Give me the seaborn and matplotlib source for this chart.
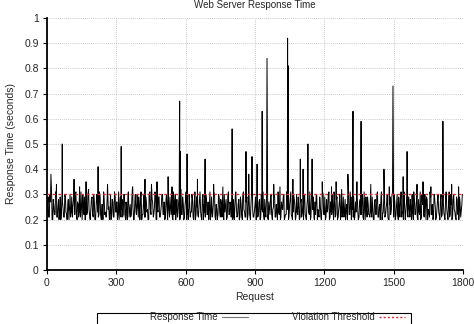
import numpy as np
import pandas as pd
import matplotlib
matplotlib.use("Agg")
import matplotlib.pyplot as plt
import seaborn as sns
from matplotlib.lines import Line2D
from matplotlib.patches import Rectangle

# ---- data ----
base_step = 5
base_values_a = [
    0.22,0.29,0.21,0.27,0.30,0.20,0.25,0.22,0.31,0.21,0.28,0.23,0.20,0.30,0.24,0.21,0.29,0.22,0.26,0.20,
    0.30,0.23,0.21,0.28,0.22,0.31,0.20,0.26,0.29,0.21,0.24,0.30,0.22,0.20,0.27,0.23,0.32,0.21,0.25,0.29,
    0.21,0.27,0.20,0.30,0.23,0.22,0.29,0.20,0.26,0.31,0.22,0.21,0.28,0.24,0.20,0.30,0.22,0.27,0.21,0.29,
    0.23,0.20,0.31,0.25,0.21,0.28,0.22,0.30,0.20,0.24,0.29,0.21,0.26,0.22,0.33,0.20,0.27,0.23,0.30,0.21,
    0.25,0.29,0.20,0.22,0.30,0.21,0.27,0.24,0.20,0.31,0.22,0.28,0.21,0.25,0.30,0.20,0.23,0.29,0.21,0.26,
    0.30,0.22,0.20,0.28,0.23,0.31,0.21,0.25,0.29,0.20,0.22,0.30,0.24,0.21,0.27,0.20,0.32,0.22,0.26,0.21,
    0.29,0.20,0.24,0.30,0.21,0.23,0.28,0.20,0.31,0.22,0.25,0.21,0.29,0.23,0.20,0.30,0.26,0.21,0.28,0.22,
    0.20,0.31,0.23,0.21,0.27,0.30,0.20,0.24,0.22,0.29,0.21,0.26,0.30,0.20,0.23,0.28,0.21,0.31,0.22,0.25,
    0.29,0.21,0.20,0.30,0.24,0.22,0.28,0.21,0.26,0.20,0.31,0.23,0.21,0.29,0.22,0.27,0.20,0.30,0.24,0.21,
    0.26,0.20,0.30,0.22,0.28,0.21,0.24,0.31,0.20,0.23,0.29,0.21,0.27,0.22,0.30,0.20,0.25,0.29,0.21,0.23,
    0.31,0.22,0.20,0.27,0.24,0.30,0.21,0.22,0.29,0.20,0.26,0.31,0.21,0.23,0.28,0.20,0.30,0.22,0.25,0.21,
    0.28,0.23,0.20,0.30,0.21,0.26,0.29,0.22,0.20,0.31,0.24,0.21,0.27,0.30,0.20,0.22,0.29,0.21,0.25,0.30,
    0.22,0.20,0.28,0.24,0.31,0.21,0.23,0.30,0.20,0.26,0.22,0.29,0.21,0.27,0.20,0.32,0.23,0.21,0.28,0.24,
    0.20,0.30,0.22,0.25,0.29,0.21,0.20,0.27,0.31,0.23,0.21,0.28,0.22,0.30,0.20,0.24,0.29,0.21,0.26,0.22,
    0.30,0.21,0.24,0.20,0.28,0.22,0.31,0.21,0.26,0.29,0.20,0.23,0.30,0.22,0.27,0.21,0.20,0.29,0.24,0.31,
    0.21,0.27,0.22,0.30,0.20,0.25,0.28,0.21,0.23,0.31,0.20,0.26,0.22,0.29,0.21,0.24,0.30,0.20,0.27,0.22,
    0.29,0.20,0.23,0.31,0.21,0.26,0.22,0.30,0.20,0.28,0.24,0.21,0.29,0.22,0.20,0.30,0.25,0.21,0.28,0.23,
    0.20,0.30,0.22,0.27,0.21,0.29,0.24,0.20,0.31,0.22,0.26,0.21,0.30,0.23,0.20,0.28,0.22,0.29,0.21,0.26,
]
base_values_b = [
    0.26,0.21,0.30,0.23,0.20,0.28,0.22,0.31,0.21,0.25,0.20,0.29,0.22,0.27,0.21,0.30,0.23,0.20,0.28,0.24,
    0.21,0.29,0.25,0.20,0.30,0.22,0.27,0.21,0.23,0.31,0.20,0.26,0.29,0.21,0.22,0.30,0.24,0.20,0.28,0.22,
    0.30,0.20,0.24,0.28,0.21,0.31,0.22,0.26,0.20,0.29,0.23,0.21,0.30,0.25,0.22,0.20,0.28,0.21,0.31,0.23,
    0.27,0.22,0.20,0.29,0.24,0.21,0.30,0.22,0.27,0.20,0.31,0.23,0.21,0.28,0.25,0.20,0.30,0.22,0.26,0.29,
    0.20,0.31,0.22,0.26,0.21,0.29,0.23,0.20,0.30,0.24,0.21,0.27,0.22,0.31,0.20,0.25,0.29,0.21,0.23,0.30,
    0.22,0.27,0.21,0.30,0.20,0.24,0.29,0.22,0.21,0.31,0.26,0.20,0.28,0.23,0.30,0.21,0.22,0.29,0.20,0.25,
    0.31,0.22,0.20,0.27,0.23,0.30,0.21,0.26,0.20,0.29,0.22,0.24,0.31,0.21,0.28,0.20,0.23,0.30,0.22,0.27,
    0.24,0.20,0.29,0.22,0.31,0.21,0.26,0.20,0.30,0.23,0.28,0.21,0.22,0.30,0.25,0.20,0.29,0.22,0.27,0.21,
    0.20,0.28,0.23,0.31,0.21,0.26,0.20,0.29,0.22,0.30,0.24,0.21,0.27,0.20,0.31,0.22,0.25,0.29,0.21,0.23,
    0.29,0.22,0.21,0.27,0.20,0.30,0.23,0.22,0.28,0.21,0.31,0.20,0.25,0.29,0.22,0.24,0.30,0.21,0.26,0.20,
    0.23,0.30,0.21,0.25,0.29,0.20,0.22,0.31,0.24,0.21,0.28,0.22,0.20,0.30,0.26,0.21,0.23,0.29,0.20,0.27,
    0.21,0.26,0.30,0.22,0.20,0.28,0.23,0.31,0.21,0.25,0.29,0.20,0.22,0.30,0.24,0.21,0.27,0.20,0.31,0.22,
    0.29,0.21,0.23,0.30,0.20,0.27,0.22,0.25,0.31,0.21,0.28,0.20,0.24,0.30,0.22,0.21,0.29,0.23,0.20,0.26,
    0.27,0.22,0.31,0.20,0.24,0.29,0.21,0.23,0.30,0.20,0.26,0.22,0.28,0.21,0.31,0.20,0.25,0.29,0.22,0.21,
    0.23,0.29,0.20,0.27,0.22,0.30,0.21,0.25,0.20,0.31,0.22,0.28,0.21,0.24,0.30,0.20,0.26,0.22,0.29,0.21,
    0.30,0.20,0.25,0.22,0.29,0.21,0.31,0.23,0.20,0.27,0.22,0.30,0.21,0.25,0.28,0.20,0.23,0.31,0.22,0.26,
    0.21,0.28,0.22,0.20,0.30,0.24,0.21,0.27,0.29,0.20,0.23,0.31,0.22,0.26,0.21,0.29,0.20,0.24,0.30,0.22,
    0.27,0.21,0.29,0.23,0.20,0.31,0.22,0.25,0.21,0.30,0.20,0.28,0.24,0.21,0.29,0.22,0.20,0.27,0.23,0.30,
]
spike_requests = [17, 41, 66, 117, 141, 169, 221, 262, 321, 371, 424, 452, 476, 524, 541,
                  574, 576, 606, 651, 684, 721, 761, 801, 861, 873, 887, 909, 931, 952, 981,
                  1008, 1041, 1044, 1064, 1096, 1108, 1129, 1147, 1191, 1231, 1251, 1302, 1324,
                  1341, 1359, 1401, 1458, 1481, 1497, 1541, 1558, 1601, 1627, 1661, 1713, 1751, 1781]
spike_values = [0.38, 0.34, 0.50, 0.36, 0.33, 0.35, 0.41, 0.34, 0.49, 0.33, 0.36, 0.34, 0.35, 0.37, 0.33,
                0.67, 0.47, 0.46, 0.36, 0.44, 0.34, 0.33, 0.56, 0.47, 0.38, 0.45, 0.42, 0.63, 0.84, 0.34,
                0.33, 0.92, 0.81, 0.36, 0.44, 0.40, 0.50, 0.44, 0.35, 0.33, 0.35, 0.38, 0.63,
                0.35, 0.59, 0.34, 0.40, 0.33, 0.73, 0.37, 0.47, 0.34, 0.35, 0.33, 0.59, 0.34, 0.33]
threshold = 0.30
x_ticks = [0, 300, 600, 900, 1200, 1500, 1800]
y_ticks = [0, 0.1, 0.2, 0.3, 0.4, 0.5, 0.6, 0.7, 0.8, 0.9, 1]
y_tick_labels = ["0", "0.1", "0.2", "0.3", "0.4", "0.5", "0.6", "0.7", "0.8", "0.9", "1"]

df = pd.concat([
    pd.DataFrame({"Request": np.arange(len(base_values_a)) * base_step,
                  "Response": base_values_a}),
    pd.DataFrame({"Request": np.arange(len(base_values_b)) * base_step + 2,
                  "Response": base_values_b}),
    pd.DataFrame({"Request": spike_requests, "Response": spike_values}),
], ignore_index=True)
# a spike replaces a regular sample that falls on the same request
df = df.drop_duplicates("Request", keep="last").sort_values("Request", kind="stable")
df = df.reset_index(drop=True)

# ---- style ----
sns.set_style("white")
plt.rcParams["font.family"] = ["Liberation Sans", "DejaVu Sans"]

fig = plt.figure(figsize=(4.74, 3.24), dpi=100)
ax = fig.add_axes([47/474, 1-270/324, 416/474, 252/324])

sns.lineplot(data=df, x="Request", y="Response", ax=ax, color="black",
             linewidth=0.7, estimator=None, sort=False, legend=False)
ax.axhline(threshold, color="#d0303c", linestyle=(0, (2, 2)), linewidth=1.0, zorder=3)

ax.set_xlim(0, 1800)
ax.set_ylim(0, 1)
ax.set_xticks(x_ticks)
ax.set_xticklabels([str(t) for t in x_ticks])
ax.set_yticks(y_ticks)
ax.set_yticklabels(y_tick_labels)
ax.grid(True, color="#b8b8b8", linestyle=(0, (1, 1.5)), linewidth=0.6)
ax.set_axisbelow(True)
for s in ["top", "right"]:
    ax.spines[s].set_visible(False)
for s in ["left", "bottom"]:
    ax.spines[s].set_color("black")
    ax.spines[s].set_linewidth(1.3)
ax.tick_params(direction="out", length=3, width=0.8, color="black",
               labelsize=7.5, pad=3, left=True, bottom=True)
ax.set_xlabel("Request", fontsize=7.5, labelpad=3)
ax.set_ylabel("Response Time (seconds)", fontsize=7.5, labelpad=6)
ax.set_title("Web Server Response Time", fontsize=7, pad=7)

# legend (label before sample), with a box that runs off the bottom edge
handles = [Line2D([], [], color="#777777", linewidth=0.8),
           Line2D([], [], color="#d0303c", linestyle=(0, (1.5, 1.5)), linewidth=1.0)]
leg = fig.legend(handles, ["Response Time", "Violation Threshold"], ncol=2,
                 loc="upper left", bbox_to_anchor=(150/474, 1-312/324),
                 markerfirst=False, frameon=False, fontsize=7,
                 handlelength=2.7, handletextpad=0.4, borderpad=0,
                 borderaxespad=0, columnspacing=4.6)
fig.patches.append(Rectangle((97/474, -0.05), 314/474, 0.05 + 1 - 313/324,
                             transform=fig.transFigure, fill=False,
                             edgecolor="black", linewidth=0.8))

fig.savefig("out.png", dpi=100)
